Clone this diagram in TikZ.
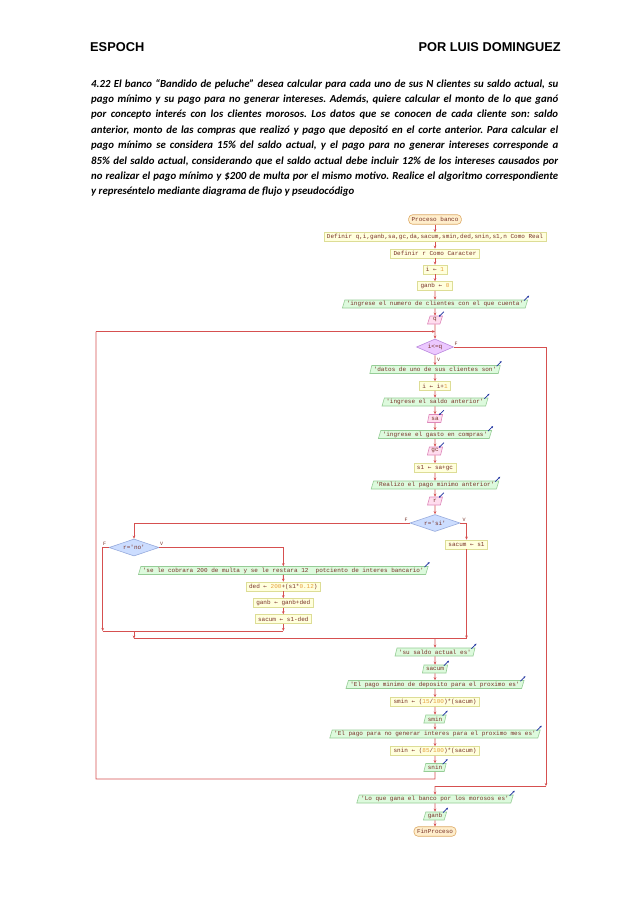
\documentclass[tikz,border=0pt]{standalone}
\usepackage{fontspec}
\setmainfont{Carlito}
\newfontfamily\headfont{Liberation Sans}
\newfontfamily\monofont{Liberation Mono}
\newfontfamily\arrowfont{DejaVu Sans Mono}
\usetikzlibrary{shapes.geometric,arrows.meta}
\definecolor{lnred}{RGB}{214,80,80}
\definecolor{procfill}{RGB}{255,255,221}
\definecolor{procdraw}{RGB}{221,221,150}
\definecolor{outfill}{RGB}{221,250,221}
\definecolor{outdraw}{RGB}{150,205,150}
\definecolor{infill}{RGB}{255,221,238}
\definecolor{indraw}{RGB}{221,136,187}
\definecolor{whfill}{RGB}{236,200,255}
\definecolor{whdraw}{RGB}{187,136,221}
\definecolor{iffill}{RGB}{204,221,255}
\definecolor{ifdraw}{RGB}{150,170,220}
\definecolor{sefill}{RGB}{255,238,204}
\definecolor{sedraw}{RGB}{221,170,102}
\definecolor{txt}{RGB}{120,50,40}
\definecolor{num}{RGB}{230,160,60}
\definecolor{iconc}{RGB}{30,50,160}
\newcommand\nm[1]{\textcolor{num}{#1}}
\newcommand\sq{\XeTeXglyph\XeTeXcharglyph"27\relax}
\newcommand\asg{{\arrowfont ←}}
\tikzset{
 basebox/.style={font=\monofont\fontsize{6}{7}\selectfont, text=txt, line width=0.6pt, minimum height=9pt, inner ysep=0.5pt},
 proc/.style={basebox, rectangle, fill=procfill, draw=procdraw, inner xsep=3pt},
 iobox/.style={basebox, trapezium, trapezium left angle=70, trapezium right angle=110, trapezium stretches=true, inner xsep=2pt, minimum height=8pt},
 outp/.style={iobox, fill=outfill, draw=outdraw},
 inp/.style={iobox, fill=infill, draw=indraw, minimum width=15pt},
 term/.style={basebox, rectangle, rounded corners=4pt, fill=sefill, draw=sedraw, inner xsep=3pt, minimum height=9.5pt},
 loopd/.style={basebox, diamond, aspect=3, fill=whfill, draw=whdraw, minimum width=37pt, minimum height=16pt, inner sep=0pt},
 ifd/.style={basebox, diamond, aspect=3, fill=iffill, draw=ifdraw, minimum width=50pt, minimum height=17pt, inner sep=0pt},
 conn/.style={draw=lnred, line width=0.9pt, -{Stealth[length=3pt,width=2.6pt]}},
 wire/.style={draw=lnred, line width=0.9pt},
 lbl/.style={font=\monofont\fontsize{5}{5}\selectfont, text=txt, inner sep=0.5pt},
 iconout/.style={draw=iconc, line width=0.7pt, -{Stealth[length=2pt,width=2pt]}},
 iconin/.style={draw=iconc, line width=0.7pt, {Stealth[length=2pt,width=2pt]}-},
}
\begin{document}
\begin{tikzpicture}[x=1pt,y=-1pt]
\useasboundingbox (0,0) rectangle (638,902);
\fill[white] (0,0) rectangle (638,902);
% header
\node[anchor=base west, inner sep=0, font=\headfont\bfseries\fontsize{12.8}{14}\selectfont] (hl) at (90,51.5) {ESPOCH};
\node[anchor=base east, inner sep=0, font=\headfont\bfseries\fontsize{12.8}{14}\selectfont] (hr) at (561,51.5) {POR LUIS DOMINGUEZ};
% statement
\node[anchor=north west, inner sep=0, text width=467pt, align=justify, font=\fontsize{10.8}{15.4}\selectfont\bfseries\itshape] (par) at (91,79)
{\frenchspacing 4.22 El banco “Bandido de peluche” desea calcular para cada uno de sus N clientes su saldo actual, su\linebreak
pago mínimo y su pago para no generar intereses. Además, quiere calcular el monto de lo que ganó\linebreak
por concepto interés con los clientes morosos. Los datos que se conocen de cada cliente son: saldo\linebreak
anterior, monto de las compras que realizó y pago que depositó en el corte anterior. Para calcular el\linebreak
pago mínimo se considera 15\% del saldo actual, y el pago para no generar intereses corresponde a\linebreak
85\% del saldo actual, considerando que el saldo actual debe incluir 12\% de los intereses causados por\linebreak
no realizar el pago mínimo y \$200 de multa por el mismo motivo. Realice el algoritmo correspondiente\linebreak
y represéntelo mediante diagrama de flujo y pseudocódigo\par};
% flowchart nodes
\node[term] (start) at (435,219.5) {Proceso banco};
\node[proc] (d1) at (435,237) {Definir q,i,ganb,sa,gc,da,sacum,smin,ded,snin,s1,n Como Real};
\node[proc] (d2) at (435,253.5) {Definir r Como Caracter};
\node[proc] (a1) at (435,269.5) {i \asg{} \nm{1}};
\node[proc] (a2) at (435,286) {ganb \asg{} \nm{0}};
\node[outp] (o1) at (435,304) {\sq ingrese el numero de clientes con el que cuenta\sq};
\node[inp] (r1) at (435,320) {q};
\node[loopd] (w) at (435,347) {i<=q};
\node[outp] (o2) at (435,369.5) {\sq datos de uno de sus clientes son\sq};
\node[proc] (a3) at (435,386) {i \asg{} i+\nm{1}};
\node[outp] (o3) at (435,402) {\sq ingrese el saldo anterior\sq};
\node[inp] (r2) at (435,418.5) {sa};
\node[outp] (o4) at (435,434.5) {\sq ingrese el gasto en compras\sq};
\node[inp] (r3) at (435,451) {gc};
\node[proc] (a4) at (435,468) {s1 \asg{} sa+gc};
\node[outp] (o5) at (435,485) {\sq Realizo el pago minimo anterior\sq};
\node[inp] (r4) at (435,501) {r};
\node[ifd] (if1) at (435,523) {r=\sq si\sq};
\node[proc] (a5) at (466.5,544.5) {sacum \asg{} s1};
\node[ifd] (if2) at (134,547.5) {r=\sq no\sq};
\node[outp] (o6) at (283.3,570.5) {\sq se le cobrara 200 de multa y se le restara 12\ \ potciento de interes bancario\sq};
\node[proc] (a6) at (283.3,586.5) {ded \asg{} \nm{200}+(s1*\nm{0.12})};
\node[proc] (a7) at (283.3,603) {ganb \asg{} ganb+ded};
\node[proc] (a8) at (283.3,619) {sacum \asg{} s1-ded};
\node[outp] (o7) at (435,652) {\sq su saldo actual es\sq};
\node[outp] (o8) at (435,669) {sacum};
\node[outp] (o9) at (435,684.5) {\sq El pago minimo de deposito para el proximo es\sq};
\node[proc] (a9) at (435,702) {smin \asg{} (\nm{15}/\nm{100})*(sacum)};
\node[outp] (o10) at (435,719) {smin};
\node[outp] (o11) at (435,734) {\sq El pago para no generar interes para el proximo mes es\sq};
\node[proc] (a10) at (435,751) {snin \asg{} (\nm{85}/\nm{100})*(sacum)};
\node[outp] (o12) at (435,767.5) {snin};
\node[outp] (o13) at (435,799) {\sq Lo que gana el banco por los morosos es\sq};
\node[outp] (o14) at (435,816) {ganb};
\node[term] (fin) at (435,831.5) {FinProceso};
% icons
\foreach \n in {o1,o2,o3,o4,o5,o6,o7,o8,o9,o10,o11,o12,o13,o14}
  \draw[iconout] ([xshift=-4pt,yshift=-1pt]\n.top right corner) -- ++(5,-5);
\foreach \n in {r1,r2,r3,r4}
  \draw[iconin] ([xshift=-4pt,yshift=-1pt]\n.top right corner) -- ++(5,-5);
% coordinates
\coordinate (jn) at (435,331.5);
\coordinate (ltl) at (96,331.5);
\coordinate (lbl) at (96,779);
\coordinate (lbr) at (435,779);
\coordinate (fr2) at (546,786);
\coordinate (fr3) at (435,786);
\coordinate (m1r) at (466.5,638.5);
\coordinate (m1l) at (134,638.5);
\coordinate (m1) at (435,638.5);
\coordinate (c1) at (102.7,631);
\coordinate (m2) at (134,631);
\coordinate (m2r) at (283.3,631);
% main connectors
\draw[conn] (start.south) -- (d1.north);
\draw[conn] (d1.south) -- (d2.north);
\draw[conn] (d2.south) -- (a1.north);
\draw[conn] (a1.south) -- (a2.north);
\draw[conn] (a2.south) -- (o1.north);
\draw[conn] (o1.south) -- (r1.north);
\draw[conn] (r1.south) -- (w.north);
\draw[conn] (w.south) -- (o2.north);
\draw[conn] (o2.south) -- (a3.north);
\draw[conn] (a3.south) -- (o3.north);
\draw[conn] (o3.south) -- (r2.north);
\draw[conn] (r2.south) -- (o4.north);
\draw[conn] (o4.south) -- (r3.north);
\draw[conn] (r3.south) -- (a4.north);
\draw[conn] (a4.south) -- (o5.north);
\draw[conn] (o5.south) -- (r4.north);
\draw[conn] (r4.south) -- (if1.north);
\draw[conn] (if1.east) -| (a5.north);
\draw[conn] (a5.south) -- (m1r);
\draw[conn] (if1.west) -| (if2.north);
\draw[conn] (if2.east) -| (o6.north);
\draw[conn] (o6.south) -- (a6.north);
\draw[conn] (a6.south) -- (a7.north);
\draw[conn] (a7.south) -- (a8.north);
\draw[conn] (a8.south) -- (m2r);
\draw[conn] (if2.west) -| (c1);
\draw[wire] (c1) -- (m2r);
\draw[conn] (m2) -- (m1l);
\draw[wire] (m1l) -- (m1r);
\draw[conn] (m1) -- (o7.north);
\draw[conn] (o7.south) -- (o8.north);
\draw[conn] (o8.south) -- (o9.north);
\draw[conn] (o9.south) -- (a9.north);
\draw[conn] (a9.south) -- (o10.north);
\draw[conn] (o10.south) -- (o11.north);
\draw[conn] (o11.south) -- (a10.north);
\draw[conn] (a10.south) -- (o12.north);
\draw[wire] (o12.south) -- (lbr) -- (lbl) -- (ltl);
\draw[conn] (ltl) -- (jn);
\draw[conn] (w.east) -| (fr2);
\draw[wire] (fr2) -- (fr3);
\draw[conn] (fr3) -- (o13.north);
\draw[conn] (o13.south) -- (o14.north);
\draw[conn] (o14.south) -- (fin.north);
% labels
\node[lbl] (lwf) at (456,343.5) {F};
\node[lbl] (lwv) at (438.5,359.5) {V};
\node[lbl] (l1f) at (406,519.5) {F};
\node[lbl] (l1v) at (464,519.5) {V};
\node[lbl] (l2f) at (104.5,544) {F};
\node[lbl] (l2v) at (161.5,544) {V};
\end{tikzpicture}
\end{document}
